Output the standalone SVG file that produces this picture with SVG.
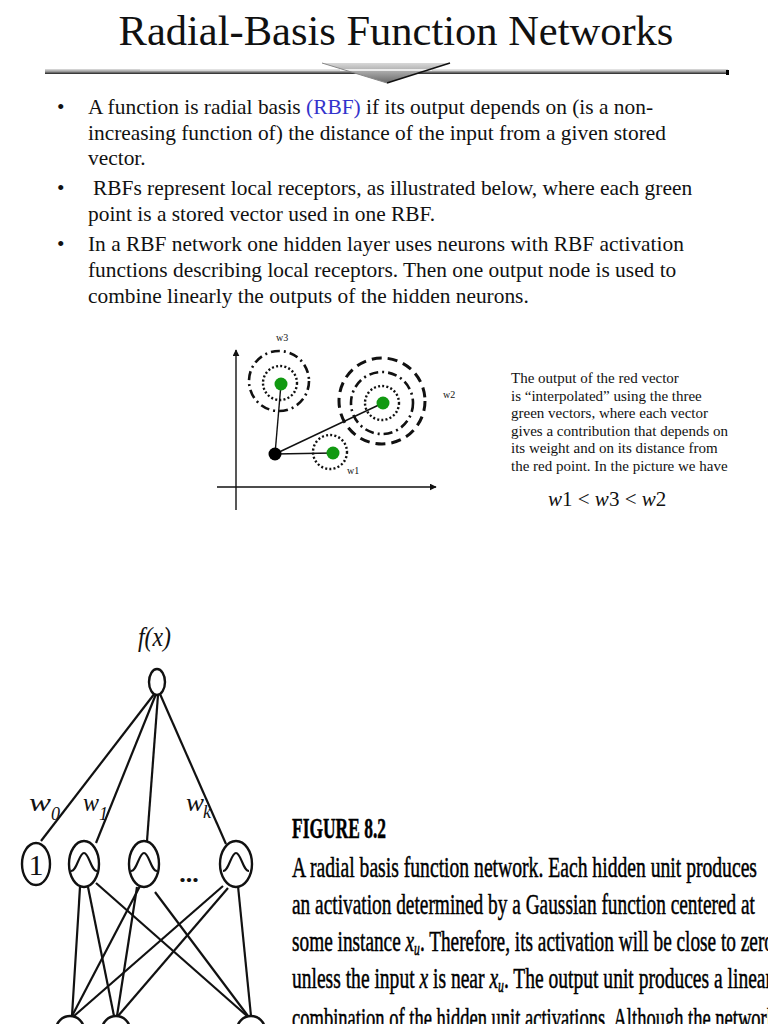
<svg xmlns="http://www.w3.org/2000/svg" width="768" height="1024" viewBox="0 0 768 1024">
<defs>
<linearGradient id="barG" x1="0" y1="0" x2="0" y2="1">
<stop offset="0" stop-color="#e0e0e0"/><stop offset="0.5" stop-color="#9a9a9a"/><stop offset="1" stop-color="#222"/>
</linearGradient>
<linearGradient id="triG" x1="0" y1="0" x2="0" y2="1">
<stop offset="0" stop-color="#d8d8d8"/><stop offset="1" stop-color="#6a6a6a"/>
</linearGradient>
<marker id="arr" viewBox="0 0 10 10" refX="9" refY="5" markerWidth="7" markerHeight="7" orient="auto" markerUnits="userSpaceOnUse">
<path d="M0,0 L10,5 L0,10 z" fill="#111"/>
</marker>
</defs>
<style>
.t{font-family:"Liberation Serif","Times New Roman",serif;fill:#111}
.b{font-size:21.4px}
.small{font-size:15px}
.lbl{font-size:10px}
.dot{fill:none;stroke:#111;stroke-width:2.4;stroke-dasharray:2 2.2}
.dash{fill:none;stroke:#111;stroke-width:3;stroke-dasharray:10 6}
.dd{fill:none;stroke:#111;stroke-width:2.6;stroke-dasharray:9 4 2 4}
.g{fill:#119911}
.ln{stroke:#111;stroke-width:1.4;fill:none}
.nl{stroke:#111;stroke-width:2.2;fill:none}
.nd{fill:#fff;stroke:#111;stroke-width:2.4}
.cap{font-family:"Liberation Serif","Times New Roman",serif;font-size:30px;fill:#000;stroke:#000;stroke-width:0.5}
.it{font-style:italic}
</style>
<rect width="768" height="1024" fill="#fff"/>

<!-- title -->
<text class="t" x="396" y="45" font-size="42.5" text-anchor="middle">Radial-Basis Function Networks</text>
<!-- separator -->
<rect x="45" y="69" width="683" height="5" fill="url(#barG)"/>
<line x1="140" y1="70" x2="640" y2="70" stroke="#f2f2f2" stroke-width="1"/>
<rect x="726" y="70" width="3" height="5" fill="#000"/>
<polygon points="322,63 450,63 387,83" fill="url(#triG)"/>
<line x1="340" y1="70" x2="432" y2="70" stroke="#fff" stroke-width="1.5"/>
<line x1="450" y1="63" x2="387" y2="83" stroke="#111" stroke-width="1.5"/>
<line x1="322" y1="63" x2="387" y2="83" stroke="#888" stroke-width="1"/>

<!-- bullets -->
<g class="t b">
<text x="57" y="114">•</text>
<text x="88" y="114">A function is radial basis <tspan fill="#3333cc">(RBF)</tspan> if its output depends on (is a non-</text>
<text x="88" y="140">increasing function of) the distance of the input from a given stored</text>
<text x="88" y="165">vector.</text>
<text x="57" y="195">•</text>
<text x="93" y="195">RBFs represent local receptors, as illustrated below, where each green</text>
<text x="88" y="221">point is a stored vector used in one RBF.</text>
<text x="57" y="251">•</text>
<text x="88" y="251">In a RBF network one hidden layer uses neurons with RBF activation</text>
<text x="88" y="277">functions describing local receptors. Then one output node is used to</text>
<text x="88" y="303">combine linearly the outputs of the hidden neurons.</text>
</g>

<!-- RBF picture: axes -->
<g id="axes">
<line class="ln" x1="236" y1="510" x2="236" y2="350" marker-end="url(#arr)"/>
<line class="ln" x1="217" y1="487" x2="436" y2="487" marker-end="url(#arr)"/>
</g>
<g id="rbf-connectors">
<line class="ln" x1="275" y1="454" x2="281" y2="384"/>
<line class="ln" x1="275" y1="454" x2="383" y2="403"/>
<line class="ln" x1="275" y1="454" x2="333" y2="453"/>
</g>
<g id="w3">
<circle class="dd" cx="279" cy="381" r="30"/>
<circle class="dot" cx="280" cy="383" r="17"/>
<circle class="g" cx="281" cy="384" r="6.5"/>
<text class="t lbl" x="276" y="341">w3</text>
</g>
<g id="w2">
<circle class="dash" cx="382" cy="401" r="43"/>
<circle class="dd" cx="382" cy="403" r="31"/>
<circle class="dot" cx="382" cy="403" r="17"/>
<circle class="g" cx="383" cy="403" r="6.5"/>
<text class="t lbl" x="443" y="398">w2</text>
</g>
<g id="w1">
<circle class="dot" cx="330" cy="452" r="17"/>
<circle class="g" cx="333" cy="453" r="6.5"/>
<text class="t lbl" x="347" y="474">w1</text>
</g>
<g id="red-point">
<circle cx="275" cy="454" r="6.5" fill="#000"/>
</g>

<!-- explanation -->
<g class="t small">
<text x="511" y="383">The output of the red vector</text>
<text x="511" y="401">is “interpolated” using the three</text>
<text x="511" y="418">green vectors, where each vector</text>
<text x="511" y="436">gives a contribution that depends on</text>
<text x="511" y="453">its weight and on its distance from</text>
<text x="511" y="471">the red point. In the picture we have</text>
</g>
<text class="t" x="548" y="506" font-size="21"><tspan class="it">w</tspan>1 &lt; <tspan class="it">w</tspan>3 &lt; <tspan class="it">w</tspan>2</text>

<!-- RBF network figure -->
<g id="net-connectors">
<line class="nl" x1="155" y1="693" x2="41" y2="841"/>
<line class="nl" x1="156" y1="694" x2="96" y2="843"/>
<line class="nl" x1="158" y1="695" x2="147" y2="841"/>
<line class="nl" x1="160" y1="694" x2="226" y2="844"/>
<line class="nl" x1="80" y1="887" x2="72" y2="1016"/>
<line class="nl" x1="88" y1="887" x2="114" y2="1016"/>
<line class="nl" x1="96" y1="883" x2="247" y2="1016"/>
<line class="nl" x1="140" y1="886" x2="72" y2="1016"/>
<line class="nl" x1="137" y1="887" x2="117" y2="1016"/>
<line class="nl" x1="155" y1="892" x2="248" y2="1016"/>
<line class="nl" x1="223" y1="886" x2="74" y2="1016"/>
<line class="nl" x1="228" y1="888" x2="118" y2="1016"/>
<line class="nl" x1="238" y1="886" x2="251" y2="1016"/>
</g>
<g id="out-node">
<ellipse class="nd" cx="157" cy="682" rx="8" ry="13"/>
<text class="t it" x="138" y="646" font-size="28" textLength="33" lengthAdjust="spacingAndGlyphs">f(x)</text>
</g>
<g id="bias-node">
<ellipse class="nd" cx="36" cy="864" rx="14" ry="21"/>
<text class="t" x="36" y="875" font-size="30" text-anchor="middle">1</text>
</g>
<g id="hidden-1">
<ellipse class="nd" cx="84" cy="864" rx="15" ry="23"/>
<path class="nl" d="M71,871 C77,871 79,853 84,853 C89,853 91,871 97,871"/>
</g>
<g id="hidden-2">
<ellipse class="nd" cx="144" cy="864" rx="15" ry="23"/>
<path class="nl" d="M131,871 C137,871 139,853 144,853 C149,853 151,871 157,871"/>
</g>
<g id="hidden-dots">
<text class="t" x="189" y="882" font-size="26" font-weight="bold" text-anchor="middle">...</text>
</g>
<g id="hidden-k">
<ellipse class="nd" cx="236" cy="864" rx="16" ry="23"/>
<path class="nl" d="M223,871 C229,871 231,853 236,853 C241,853 243,871 249,871"/>
</g>
<g id="in-1"><circle class="nd" cx="70" cy="1030" r="14"/></g>
<g id="in-2"><circle class="nd" cx="116" cy="1030" r="14"/></g>
<g id="in-3"><circle class="nd" cx="251" cy="1030" r="14"/></g>
<g id="weights" class="t it">
<text x="29" y="811" font-size="26" textLength="22" lengthAdjust="spacingAndGlyphs">w</text>
<text x="51" y="820" font-size="18">0</text>
<text x="83" y="811" font-size="26" textLength="16" lengthAdjust="spacingAndGlyphs">w</text>
<text x="99" y="820" font-size="18">1</text>
<text x="186" y="811" font-size="26" textLength="18" lengthAdjust="spacingAndGlyphs">w</text>
<text x="203" y="818" font-size="18">k</text>
</g>

<!-- caption -->
<text class="cap" x="292" y="838" font-size="23" font-weight="bold" textLength="94" lengthAdjust="spacingAndGlyphs">FIGURE 8.2</text>
<text class="cap" x="292" y="877" textLength="465" lengthAdjust="spacingAndGlyphs">A radial basis function network. Each hidden unit produces</text>
<text class="cap" x="292" y="914" textLength="463" lengthAdjust="spacingAndGlyphs">an activation determined by a Gaussian function centered at</text>
<text class="cap" x="292" y="951" textLength="482" lengthAdjust="spacingAndGlyphs">some instance <tspan class="it">x</tspan><tspan class="it" font-size="18" dy="4">u</tspan><tspan dy="-4">. Therefore, its activation will be close to zero</tspan></text>
<text class="cap" x="292" y="988" textLength="480" lengthAdjust="spacingAndGlyphs">unless the input <tspan class="it">x</tspan> is near <tspan class="it">x</tspan><tspan class="it" font-size="18" dy="4">u</tspan><tspan dy="-4">. The output unit produces a linear</tspan></text>
<text class="cap" x="292" y="1028" textLength="484" lengthAdjust="spacingAndGlyphs">combination of the hidden unit activations. Although the network</text>
</svg>
